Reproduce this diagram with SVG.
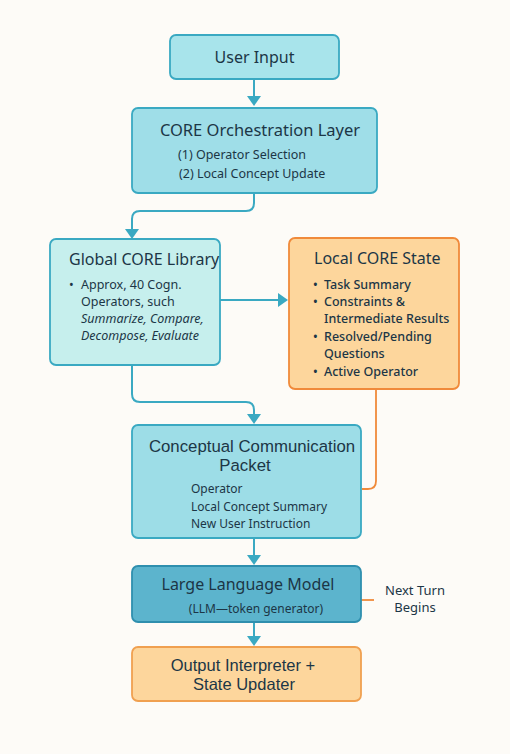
<svg xmlns="http://www.w3.org/2000/svg" width="510" height="754" viewBox="0 0 510 754">
<defs>
<style>
.t{font-family:"Noto Sans","Open Sans","Liberation Sans",sans-serif;fill:#1c3646}
.l{font-family:"Liberation Sans",Arial,sans-serif;fill:#1c3646}
.h{font-size:16px}
.s{font-size:12.5px}
.b{font-weight:500}
.it{font-style:italic}
.c{fill:none;stroke:#3aa9c2;stroke-width:2}
.o{fill:none;stroke:#f08a3a;stroke-width:1.8}
.ah{fill:#3aa9c2}
</style>
</defs>
<rect width="510" height="754" fill="#fdfbf7"/>

<g id="connectors">
<path class="c" d="M254,79 V98"/>
<path class="ah" d="M247,96 L261,96 L254,106 Z"/>
<path class="c" d="M254,193 V203 Q254,211 246,211 H140 Q132,211 132,219 V230"/>
<path class="ah" d="M125,229 L139,229 L132,239 Z"/>
<path class="c" d="M220,300 H278"/>
<path class="ah" d="M278,293 L288,300 L278,307 Z"/>
<path class="c" d="M132,365 V394 Q132,402 140,402 H246 Q254,402 254,410 V415"/>
<path class="ah" d="M247,414 L261,414 L254,424 Z"/>
<path class="o" d="M376,389 V481 Q376,489 368,489 H362"/>
<path class="c" d="M254,538 V556"/>
<path class="ah" d="M247,555 L261,555 L254,565 Z"/>
<path class="o" d="M361,600 H374"/>
<path class="c" d="M254,622 V637"/>
<path class="ah" d="M247,636 L261,636 L254,646 Z"/>
</g>

<g id="user-input">
<rect x="170" y="35" width="169" height="44" rx="6" fill="#a8e4eb" stroke="#3aa9c2" stroke-width="1.8"/>
<text class="t h" x="254.5" y="63" text-anchor="middle">User Input</text>
</g>

<g id="core-orchestration">
<rect x="132" y="108" width="245" height="85" rx="6" fill="#9fdee8" stroke="#3aa9c2" stroke-width="1.8"/>
<text class="t" x="260" y="136" text-anchor="middle" font-size="16.5">CORE Orchestration Layer</text>
<text class="t s" x="178" y="159">(1) Operator Selection</text>
<text class="t s" x="179" y="178">(2) Local Concept Update</text>
</g>

<g id="global-core-library">
<rect x="50" y="239" width="170" height="126" rx="6" fill="#c6efed" stroke="#3aa9c2" stroke-width="1.8"/>
<text class="t h" x="69" y="265">Global CORE Library</text>
<text class="t s" x="69" y="289">•</text>
<text class="t s" x="81" y="289">Approx, 40 Cogn.</text>
<text class="t s" x="81" y="306">Operators, such</text>
<text class="t s it" x="81" y="323">Summarize, Compare,</text>
<text class="t s it" x="81" y="340">Decompose, Evaluate</text>
</g>

<g id="local-core-state">
<rect x="289" y="238" width="170" height="151" rx="6" fill="#fdd69c" stroke="#f08a3a" stroke-width="1.8"/>
<text class="t h" x="314" y="264">Local CORE State</text>
<g class="t s b">
<text x="313" y="289">•</text><text x="324" y="289">Task Summary</text>
<text x="313" y="306">•</text><text x="324" y="306">Constraints &amp;</text>
<text x="324" y="323">Intermediate Results</text>
<text x="313" y="341">•</text><text x="324" y="341">Resolved/Pending</text>
<text x="324" y="358">Questions</text>
<text x="313" y="376">•</text><text x="324" y="376">Active Operator</text>
</g>
</g>

<g id="conceptual-packet">
<rect x="132" y="425" width="229" height="113" rx="6" fill="#9ddde7" stroke="#3aa9c2" stroke-width="1.8"/>
<text class="l" text-anchor="middle" font-size="16.8"><tspan x="252" y="452">Conceptual Communication</tspan><tspan x="245" dy="19">Packet</tspan></text>
<text class="t" x="191" y="493" font-size="12">Operator</text>
<text class="t" x="191" y="511" font-size="12">Local Concept Summary</text>
<text class="t" x="191" y="528" font-size="12">New User Instruction</text>
</g>

<g id="llm">
<rect x="132" y="566" width="229" height="56" rx="6" fill="#5cb4cd" stroke="#2f8fae" stroke-width="1.8"/>
<text class="t h" x="248" y="590" text-anchor="middle">Large Language Model</text>
<text class="t" x="256" y="613" text-anchor="middle" font-size="12">(LLM—token generator)</text>
</g>

<g id="next-turn-label">
<text class="t" text-anchor="middle" font-size="13"><tspan x="415" y="595">Next Turn</tspan><tspan x="415" dy="17">Begins</tspan></text>
</g>

<g id="output-interpreter">
<rect x="132" y="647" width="229" height="54" rx="6" fill="#fdd69c" stroke="#f0a050" stroke-width="1.8"/>
<text class="l" text-anchor="middle" font-size="16.5"><tspan x="243" y="671">Output Interpreter +</tspan><tspan x="244" dy="19">State Updater</tspan></text>
</g>
</svg>
